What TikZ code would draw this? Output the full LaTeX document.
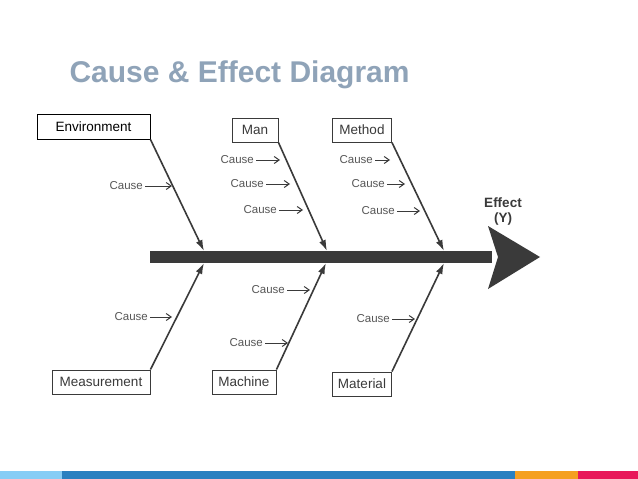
\documentclass[tikz,border=0pt]{standalone}
\usepackage{fontspec}
\setmainfont{Liberation Sans}
\usetikzlibrary{arrows.meta}
\definecolor{titlec}{HTML}{8FA3B8}
\definecolor{linec}{HTML}{3A3A3A}
\definecolor{barA}{HTML}{87CDF5}
\definecolor{barB}{HTML}{2980C0}
\definecolor{barC}{HTML}{F5A020}
\definecolor{barD}{HTML}{E8185A}
\begin{document}
\begin{tikzpicture}[x=1pt,y=-1pt,
  lbl/.style={draw=linec,line width=0.9pt,font=\fontsize{13.5}{15}\selectfont,text=linec,inner sep=2pt,minimum height=24pt},
  cz/.style={font=\fontsize{11.5}{13}\selectfont,text=linec!85,inner sep=0pt,anchor=east},
  bone/.style={draw=linec,line width=1.6pt,-{Latex[length=11pt,width=7pt]}},
  carr/.style={draw=linec,line width=1pt,-{Straight Barb[length=5pt,width=7pt]}}]
\useasboundingbox (0,0) rectangle (638,479);
\fill[white] (0,0) rectangle (638,479);
\node[anchor=west,font=\bfseries\fontsize{30}{34}\selectfont,text=titlec] (title) at (66,75) {Cause \& Effect Diagram};
% spine
\fill[linec] (150,251) rectangle (492,263);
\fill[linec] (488,226) -- (540,257) -- (488,289) -- (498,257) -- cycle;
\node[font=\bfseries\fontsize{13.5}{15}\selectfont,text=linec,align=center] (eff) at (503,212) {Effect\\(Y)};
\coordinate (j1t) at (204,251); \coordinate (j2t) at (327,251); \coordinate (j3t) at (444,251);
\coordinate (j1b) at (204,263); \coordinate (j2b) at (326,263); \coordinate (j3b) at (444,263);
% boxes
\node[draw=black,line width=0.9pt,font=\fontsize{13.5}{15}\selectfont,inner sep=2pt,minimum height=25pt,minimum width=113pt,fill=white] (env) at (93.5,126.5) {Environment};
\node[lbl,minimum width=46pt] (man) at (255,130) {Man};
\node[lbl,minimum width=59pt] (meth) at (362,130) {Method};
\node[lbl,minimum width=98pt] (meas) at (101,382) {Measurement};
\node[lbl,minimum width=64pt] (mach) at (244,382) {Machine};
\node[lbl,minimum width=59pt] (mat) at (362,384) {Material};
\draw[bone] (env.south east) -- (j1t);
\draw[bone] (man.south east) -- (j2t);
\draw[bone] (meth.south east) -- (j3t);
\draw[bone] (meas.north east) -- (j1b);
\draw[bone] (mach.north east) -- (j2b);
\draw[bone] (mat.north east) -- (j3b);
% causes: start of arrow, end of arrow
\foreach \n/\s/\e/\y in {c1/145/172/186, c2/256/280/160, c3/266/290/184, c4/279/303/210, c5/375/390/160, c6/387/405/184, c7/397/420/211, c8/287/310/290, c9/150/172/317, c10/265/288/343, c11/392/415/319}{
  \node[cz] (\n) at (\s-2,\y) {Cause};
  \coordinate (\n e) at (\e,\y);
  \draw[carr] (\n.east) ++(2pt,0) -- (\n e);
}
% bottom bars
\fill[barA] (0,471) rectangle (62,479);
\fill[barB] (62,471) rectangle (515,479);
\fill[barC] (515,471) rectangle (578,479);
\fill[barD] (578,471) rectangle (638,479);
\end{tikzpicture}
\end{document}
